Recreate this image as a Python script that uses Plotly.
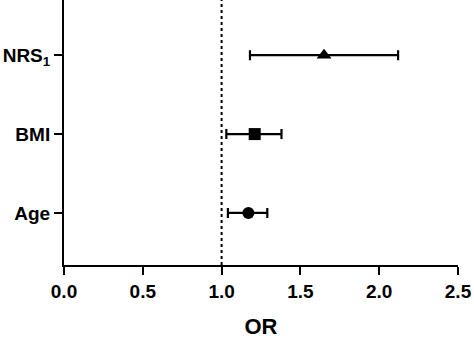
import plotly.graph_objects as go

variables = ["Age", "BMI", "NRS<sub>1</sub>"]
positions = [1, 2, 3]
odds_ratio = [1.17, 1.21, 1.65]
ci_lower = [1.04, 1.03, 1.18]
ci_upper = [1.29, 1.38, 2.12]
symbols = ["circle", "square", "triangle-up"]
x_ticks = [0.0, 0.5, 1.0, 1.5, 2.0, 2.5]
x_tick_labels = ["0.0", "0.5", "1.0", "1.5", "2.0", "2.5"]

fig = go.Figure()
for i in range(len(variables)):
    fig.add_trace(go.Scatter(
        x=[odds_ratio[i]], y=[positions[i]], mode="markers",
        marker=dict(symbol=symbols[i], size=12 if symbols[i] != "triangle-up" else 13, color="black"),
        error_x=dict(type="data", symmetric=False,
                     array=[ci_upper[i] - odds_ratio[i]],
                     arrayminus=[odds_ratio[i] - ci_lower[i]],
                     color="black", thickness=2.2, width=5),
        showlegend=False,
    ))

fig.add_shape(type="line", x0=1, x1=1, y0=0, y1=1, xref="x", yref="paper",
              line=dict(color="black", width=2, dash="dot"))

fam = "Arial, Liberation Sans, sans-serif"
fig.update_layout(
    width=474, height=340,
    margin=dict(l=64, r=16, t=0, b=75),
    plot_bgcolor="white", paper_bgcolor="white",
    xaxis=dict(range=[0, 2.5], tickvals=x_ticks, ticktext=x_tick_labels,
               showgrid=False, zeroline=False, showline=True, linecolor="black", linewidth=2,
               ticks="outside", ticklen=8, tickwidth=2, tickcolor="black",
               tickfont=dict(family=fam, size=19, color="black", weight="bold"),
               title=dict(text="OR", font=dict(family=fam, size=22, color="black", weight="bold"), standoff=18)),
    yaxis=dict(range=[0.34, 3.70], tickvals=positions, ticktext=variables,
               showgrid=False, zeroline=False, showline=True, linecolor="black", linewidth=2,
               ticks="outside", ticklen=8, tickwidth=2, tickcolor="black",
               tickfont=dict(family=fam, size=19, color="black", weight="bold")),
)
fig.write_html("out.html")
